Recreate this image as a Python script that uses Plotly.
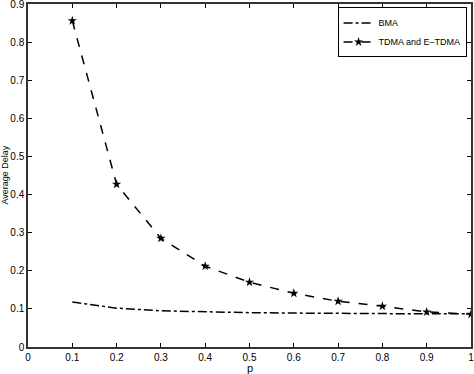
import plotly.graph_objects as go

p = [0.1, 0.2, 0.3, 0.4, 0.5, 0.6, 0.7, 0.8, 0.9, 1.0]
bma = [0.118, 0.102, 0.095, 0.092, 0.090, 0.089, 0.088, 0.088, 0.087, 0.087]
tdma = [0.856, 0.427, 0.285, 0.212, 0.170, 0.141, 0.120, 0.107, 0.092, 0.086]

x_ticks = [0, 0.1, 0.2, 0.3, 0.4, 0.5, 0.6, 0.7, 0.8, 0.9, 1]
x_labels = ["0", "0.1", "0.2", "0.3", "0.4", "0.5", "0.6", "0.7", "0.8", "0.9", "1"]
y_ticks = [0, 0.1, 0.2, 0.3, 0.4, 0.5, 0.6, 0.7, 0.8, 0.9]
y_labels = ["0", "0.1", "0.2", "0.3", "0.4", "0.5", "0.6", "0.7", "0.8", "0.9"]

fig = go.Figure()
fig.add_trace(go.Scatter(x=p, y=bma, mode="lines", name="BMA",
                         line=dict(color="black", width=1.5, dash="dashdot")))
fig.add_trace(go.Scatter(x=p, y=tdma, mode="lines+markers", name="TDMA and E\u2013TDMA",
                         line=dict(color="black", width=1.5, dash="dash"),
                         marker=dict(symbol="star", size=7, color="black")))

fam = "Liberation Sans, Arial, sans-serif"
font = dict(family=fam, size=10, color="black")
fig.update_layout(
    width=474, height=374,
    margin=dict(l=28, r=3, t=4, b=27),
    paper_bgcolor="white", plot_bgcolor="white",
    font=font,
    showlegend=True,
    legend=dict(x=0.99, y=0.99, xanchor="right", yanchor="top",
                bgcolor="white", bordercolor="black", borderwidth=1,
                font=dict(family=fam, size=9, color="black"),
                tracegroupgap=0, itemwidth=30),
    xaxis=dict(range=[0, 1], tickvals=x_ticks, ticktext=x_labels,
               ticks="inside", ticklen=4, tickcolor="black",
               ticklabeloverflow="allow",
               showline=True, linecolor="#333", linewidth=1.5, mirror="ticks",
               showgrid=False, zeroline=False, automargin=False),
    yaxis=dict(range=[0, 0.9], tickvals=y_ticks, ticktext=y_labels,
               ticks="inside", ticklen=4, tickcolor="black",
               ticklabeloverflow="allow",
               showline=True, linecolor="#333", linewidth=1.5, mirror="ticks",
               showgrid=False, zeroline=False, automargin=False),
    annotations=[
        dict(text="p", xref="paper", yref="paper", x=0.5, y=-0.061,
             xanchor="center", yanchor="middle", showarrow=False,
             font=dict(family=fam, size=11, color="black")),
        dict(text="Average Delay", xref="paper", yref="paper", x=-0.054, y=0.5,
             xanchor="center", yanchor="middle", textangle=-90, showarrow=False,
             font=dict(family=fam, size=9, color="black")),
    ],
)

fig.write_html("out.html", config={"displayModeBar": False},
               post_script="document.body.style.margin='0';document.body.style.overflow='hidden';")
